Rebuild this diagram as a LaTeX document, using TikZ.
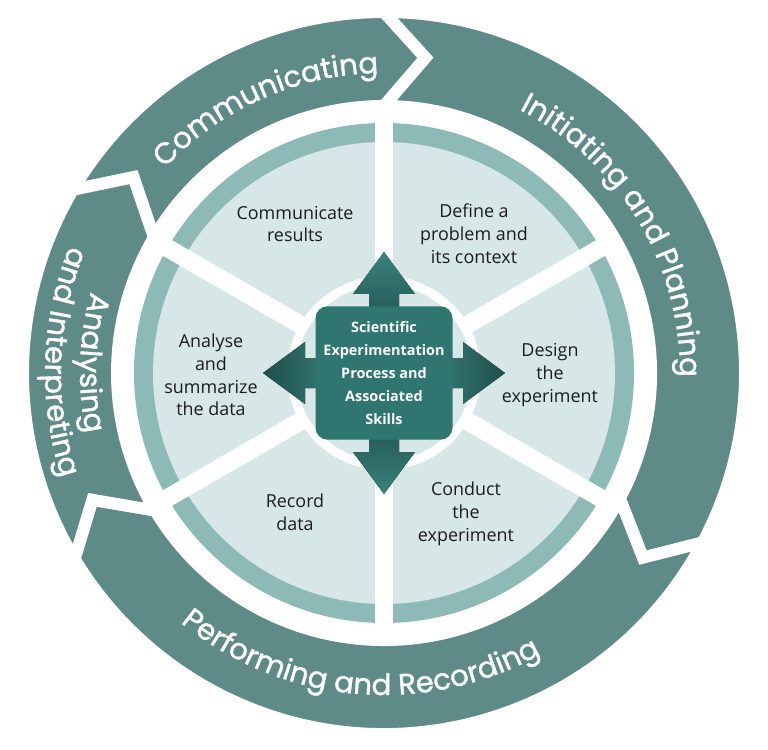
\documentclass[tikz,border=0pt]{standalone}
\usepackage{fontspec}
\setmainfont{Open Sans}
\newfontfamily\ringfnt{Poppins}[FakeBold=1.2]
\usetikzlibrary{decorations.text,shapes.misc}
\definecolor{ring}{HTML}{5E8A87}
\definecolor{mid}{HTML}{8DBAB7}
\definecolor{pale}{HTML}{D7E6E6}
\definecolor{boxc}{HTML}{307670}
\definecolor{arrd}{HTML}{1F4F4B}
\definecolor{arrl}{HTML}{3A827C}
\definecolor{ink}{HTML}{1C1C1C}
\newcommand\ringtxt{\color{white}\ringfnt\fontsize{25}{29}\selectfont}
\newcommand\segpoly[2]{%
  \filldraw[seg] (#1:361) arc[start angle=#1,end angle=#2,radius=361] -- (#2-7.5:318) -- (#2:267)
   arc[start angle=#2,end angle=#1,radius=267] -- (#1-7.5:318) -- cycle;}
\tikzset{
  seg/.style={fill=ring,draw=white,line width=0.36cm,line join=miter},
  lab/.style={align=center,text=ink,font=\fontsize{15.3}{19.5}\selectfont},
  ringtext/.style={decorate,decoration={text along path,text align=center,text={|\ringtxt|#1}}},
  spoke/.style={draw=white,line width=0.54cm},
  barr/.style={shading=axis,top color=arrl,bottom color=arrd,shading angle=#1}
}
\begin{document}
\begin{tikzpicture}[x=0.03cm,y=0.03cm]
\useasboundingbox (0,0) rectangle (768,749);
\begin{scope}[shift={(384,376)}]
\coordinate (C) at (0,0);
% outer chevron ring
\segpoly{149.5}{90}
\segpoly{90}{-28}
\segpoly{-28}{-149}
\segpoly{211}{149.5}
% ring texts
\path[ringtext=Communicating] (141:300) arc[start angle=141,end angle=87,radius=300];
\path[ringtext=Initiating and Planning] (78:296) arc[start angle=78,end angle=-16,radius=296];
\path[ringtext=Performing and Recording] (212:322) arc[start angle=212,end angle=318,radius=322];
\path[ringtext=Analysing] (150:304) arc[start angle=150,end angle=206,radius=304];
\path[ringtext=and Interpreting] (146:339) arc[start angle=146,end angle=210,radius=339];
% inner disk
\fill[mid] (C) circle[radius=250];
\fill[pale] (C) circle[radius=231];
\foreach \a in {30,90,150,210,270,330} \draw[spoke] (C) -- (\a:252);
\fill[white] (C) circle[radius=97];
\fill[pale] (C) circle[radius=88];
% arrows
\fill[barr=0] (-15,40) -- (-15,79) -- (-31,79) -- (0,121) -- (31,79) -- (15,79) -- (15,40) -- cycle;
\fill[barr=180] (-15,-40) -- (-15,-79) -- (-31,-79) -- (0,-121) -- (31,-79) -- (15,-79) -- (15,-40) -- cycle;
\fill[barr=90] (40,-15) -- (79,-15) -- (79,-31) -- (121,0) -- (79,31) -- (79,15) -- (40,15) -- cycle;
\fill[barr=270] (-40,-15) -- (-79,-15) -- (-79,-31) -- (-121,0) -- (-79,31) -- (-79,15) -- (-40,15) -- cycle;
\node[fill=boxc,rounded corners=0.36cm,minimum width=4.11cm,minimum height=4.0cm,inner sep=0pt,
  align=center,text=white,font=\bfseries\fontsize{12.3}{19.8}\selectfont] (core) at (C)
  {Scientific\\Experimentation\\Process and\\Associated\\Skills};
\end{scope}
% segment labels
\node[lab] (l1) at (295,525) {Communicate\\results};
\node[lab] (l2) at (474,515) {Define a\\problem and\\its context};
\node[lab] (l3) at (550,374) {Design\\the\\experiment};
\node[lab] (l4) at (466,235) {Conduct\\the\\experiment};
\node[lab] (l5) at (295,237) {Record\\data};
\node[lab] (l6) at (211,374) {Analyse\\and\\summarize\\the data};
\end{tikzpicture}
\end{document}
